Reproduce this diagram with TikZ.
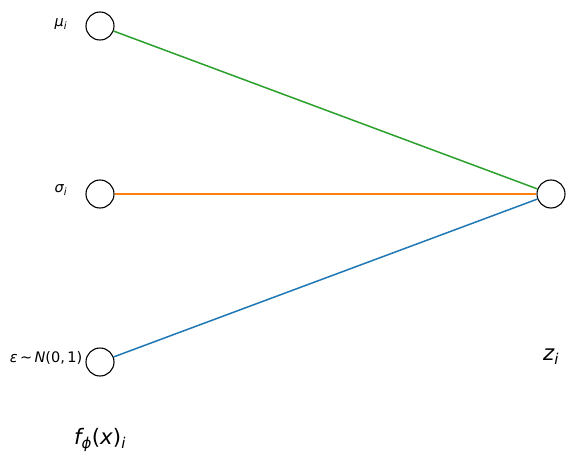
\documentclass[tikz,border=0pt]{standalone}
\usepackage{fontspec}
\setmainfont{DejaVu Sans}
\usepackage{tikz}
\usetikzlibrary{positioning}
\definecolor{tabblue}{HTML}{1F77B4}
\definecolor{taborange}{HTML}{FF7F0E}
\definecolor{tabgreen}{HTML}{2CA02C}

\begin{document}
\begin{tikzpicture}[
x=1pt, y=-1pt,
neuron/.style={circle,draw=black,line width=1.1pt,minimum size=28pt,inner sep=0pt},
link/.style={line width=1.5pt},
small/.style={inner sep=0pt,font=\fontsize{14.5}{16}\selectfont},
big/.style={inner sep=0pt,font=\fontsize{21.3}{24}\selectfont}
]
    \useasboundingbox (0,0) rectangle (583,465);

    % Draw neurons
    \node[neuron] (mu) at (100,26) {};
    \node[neuron] (sigma) at (100,194) {};
    \node[neuron] (eps) at (100,362) {};
    \node[neuron] (z) at (551,194) {};

    % labels
    \node[small] (mulabel) at (61,24) {\textit{μ\textsubscript{i}}};
    \node[small] (sigmalabel) at (61,190) {\textit{σ\textsubscript{i}}};
    \node[small] (epslabel) at (46,358) {\textit{ε}\,∼\,\textit{N}(0,\,1)};
    \node[big] (zlabel) at (551,357) {\textit{z\textsubscript{i}}};
    \node[big] (flabel) at (100,440) {\textit{f\textsubscript{ϕ}}(\textit{x})\textsubscript{\textit{i}}};

    % Draw links
    \draw[link, tabgreen] (mu) -- (z);
    \draw[link, taborange] (sigma) -- (z);
    \draw[link, tabblue] (eps) -- (z);

\end{tikzpicture}
\end{document}
